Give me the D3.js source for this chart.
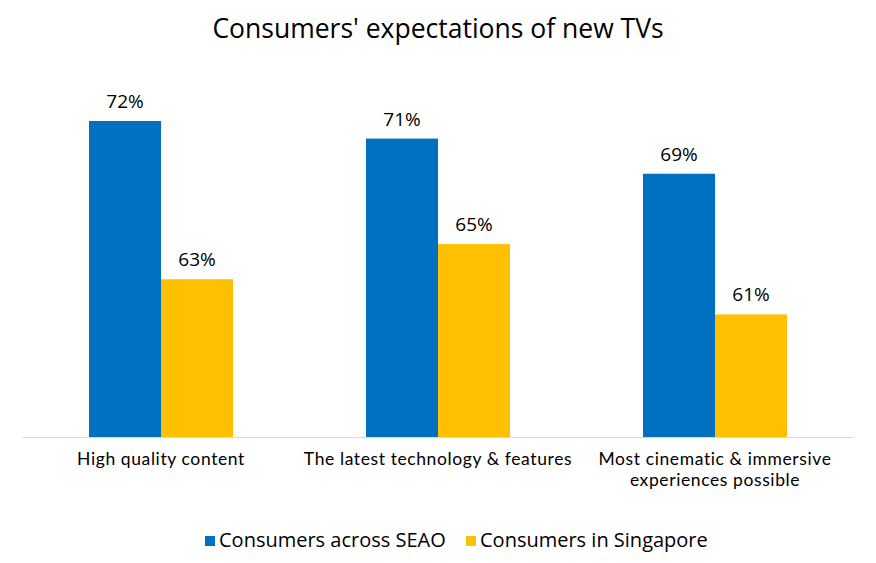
<!DOCTYPE html>
<html><head><meta charset="utf-8">
<script src="https://cdn.jsdelivr.net/npm/d3@7"></script>
<style>body{margin:0;background:#fff}svg{display:block}text{font-family:"Open Sans",sans-serif;fill:#000}</style>
</head><body><svg id="c" width="876" height="563"></svg>
<script>
const categories = [["High quality content"],["The latest technology & features"],["Most cinematic & immersive","experiences possible"]];
const seriesNames = ["Consumers across SEAO","Consumers in Singapore"];
const seao = [72,71,69];
const singapore = [63,65,61];
const colors = ["#0070C0","#FFC000"];

const svg = d3.select("#c");
const x = d3.scaleBand().domain(d3.range(categories.length)).range([22.5,853.5]).padding(0);
const barW = 72;
const y = d3.scaleLinear().domain([54,72]).range([437.5,121]);

svg.append("text").attr("x",438).attr("y",38).attr("text-anchor","middle").attr("font-size",26.5).text("Consumers' expectations of new TVs");

const series=[seao,singapore];
series.forEach((vals,s)=>{
  const g=svg.append("g");
  vals.forEach((v,i)=>{
    const cx=x(i)+x.bandwidth()/2;
    const bx = s===0? cx-barW : cx;
    g.append("rect").attr("x",bx).attr("y",y(v)).attr("width",barW).attr("height",y(54)-y(v)).attr("fill",colors[s]);
    g.append("text").attr("x",bx+barW/2).attr("y",y(v)-13).attr("text-anchor","middle").attr("font-size",19).text(v+"%");
  });
});

svg.append("line").attr("x1",22.5).attr("x2",853.5).attr("y1",437.5).attr("y2",437.5).attr("stroke","#d9d9d9").attr("stroke-width",1);

categories.forEach((lines,i)=>{
  const cx=x(i)+x.bandwidth()/2;
  lines.forEach((l,j)=>svg.append("text").attr("text-anchor","middle")
    .style("font-family","Lato, sans-serif").attr("font-size",17.5).attr("letter-spacing",0.6)
    .attr("x",cx).attr("y",465+j*21).text(l));
});

const legX=[205,466];
seriesNames.forEach((n,s)=>{
  svg.append("rect").attr("x",legX[s]).attr("y",536).attr("width",10).attr("height",10).attr("fill",colors[s]);
  svg.append("text").attr("x",legX[s]+14).attr("y",547).attr("font-size",20).text(n);
});
</script></body></html>
